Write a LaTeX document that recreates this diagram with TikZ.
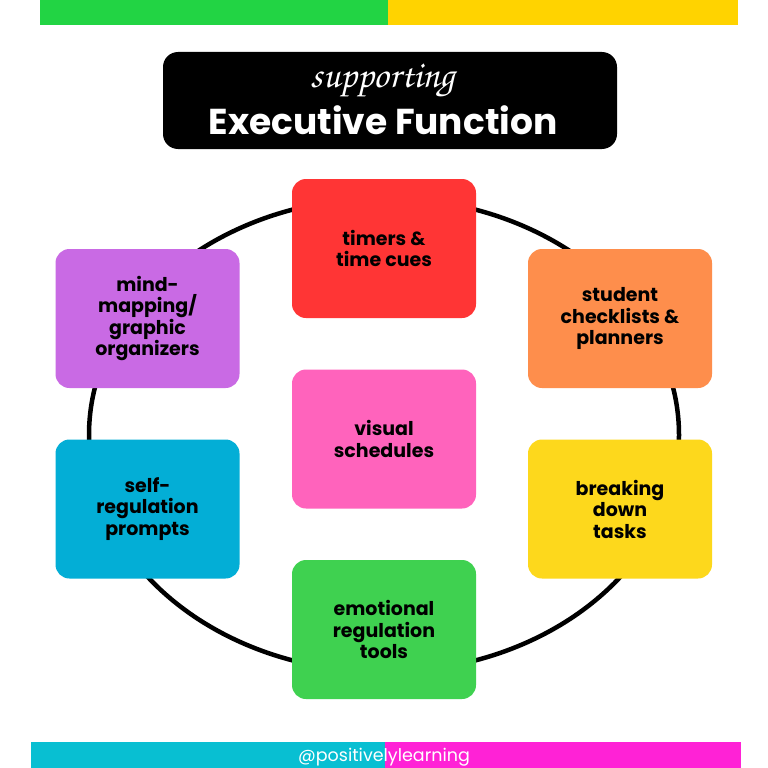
\documentclass[tikz,border=0pt]{standalone}
\usepackage{fontspec}
\setmainfont{Poppins}
\newfontfamily\chorusfont{texgyrechorus-mediumitalic.otf}
\definecolor{bargreen}{HTML}{22D444}
\definecolor{baryellow}{HTML}{FFD300}
\definecolor{barcyan}{HTML}{08BFD2}
\definecolor{barmagenta}{HTML}{FF22D6}
\definecolor{cred}{HTML}{FF3535}
\definecolor{cpurple}{HTML}{C96AE4}
\definecolor{corange}{HTML}{FE8E4C}
\definecolor{ccyan}{HTML}{03AED6}
\definecolor{cyellow}{HTML}{FDD81C}
\definecolor{cpink}{HTML}{FF63BC}
\definecolor{cgreen}{HTML}{3FD150}
\begin{document}
\begin{tikzpicture}[x=1pt,y=-1pt,
  box/.style={rounded corners=14pt, minimum width=184pt, minimum height=139pt,
    align=center, font=\fontsize{19}{21.5}\selectfont\bfseries, text=black, inner sep=0pt},
  ring/.style={line width=4.5pt, black}]
\useasboundingbox (0,0) rectangle (768,768);
\fill[white] (0,0) rectangle (768,768);
% top bars
\fill[bargreen] (40,0) rectangle (388,25.5);
\fill[baryellow] (388,0) rectangle (738,25.5);
% bottom bars
\fill[barcyan] (31,742) rectangle (385,768);
\fill[barmagenta] (385,742) rectangle (741,768);
\node[text=white, font=\fontsize{17.5}{17.5}\selectfont, anchor=base, inner sep=0pt] (handle) at (384,761) {@positivelylearning};
% title
\node[fill=black, rounded corners=15pt, minimum width=454pt, minimum height=97pt, inner sep=0pt] (title) at (390,100.5) {};
\node[text=white, font=\chorusfont\fontsize{38}{38}\selectfont, anchor=base, inner sep=0pt] (sup) at (383,87) {supporting};
\node[text=white, font=\fontsize{36}{36}\selectfont\bfseries, anchor=base, inner sep=0pt] (ef) at (383,134) {Executive Function};
% ring
\draw[ring] (384,435) ellipse [x radius=295pt, y radius=237pt];
% boxes
\node[box, fill=cred] (timers) at (384,248.5) {timers \&\\ time cues};
\node[box, fill=cpurple] (mind) at (147.5,318.5) {mind-\\mapping/\\graphic\\organizers};
\node[box, fill=corange] (check) at (620,318.5) {student\\checklists \&\\planners};
\node[box, fill=cpink] (visual) at (384,439) {visual\\schedules};
\node[box, fill=ccyan] (self) at (147.5,509) {self-\\regulation\\prompts};
\node[box, fill=cyellow] (break) at (620,509) {breaking\\down\\tasks};
\node[box, fill=cgreen] (emo) at (384,629.5) {emotional\\regulation\\tools};
\end{tikzpicture}
\end{document}
